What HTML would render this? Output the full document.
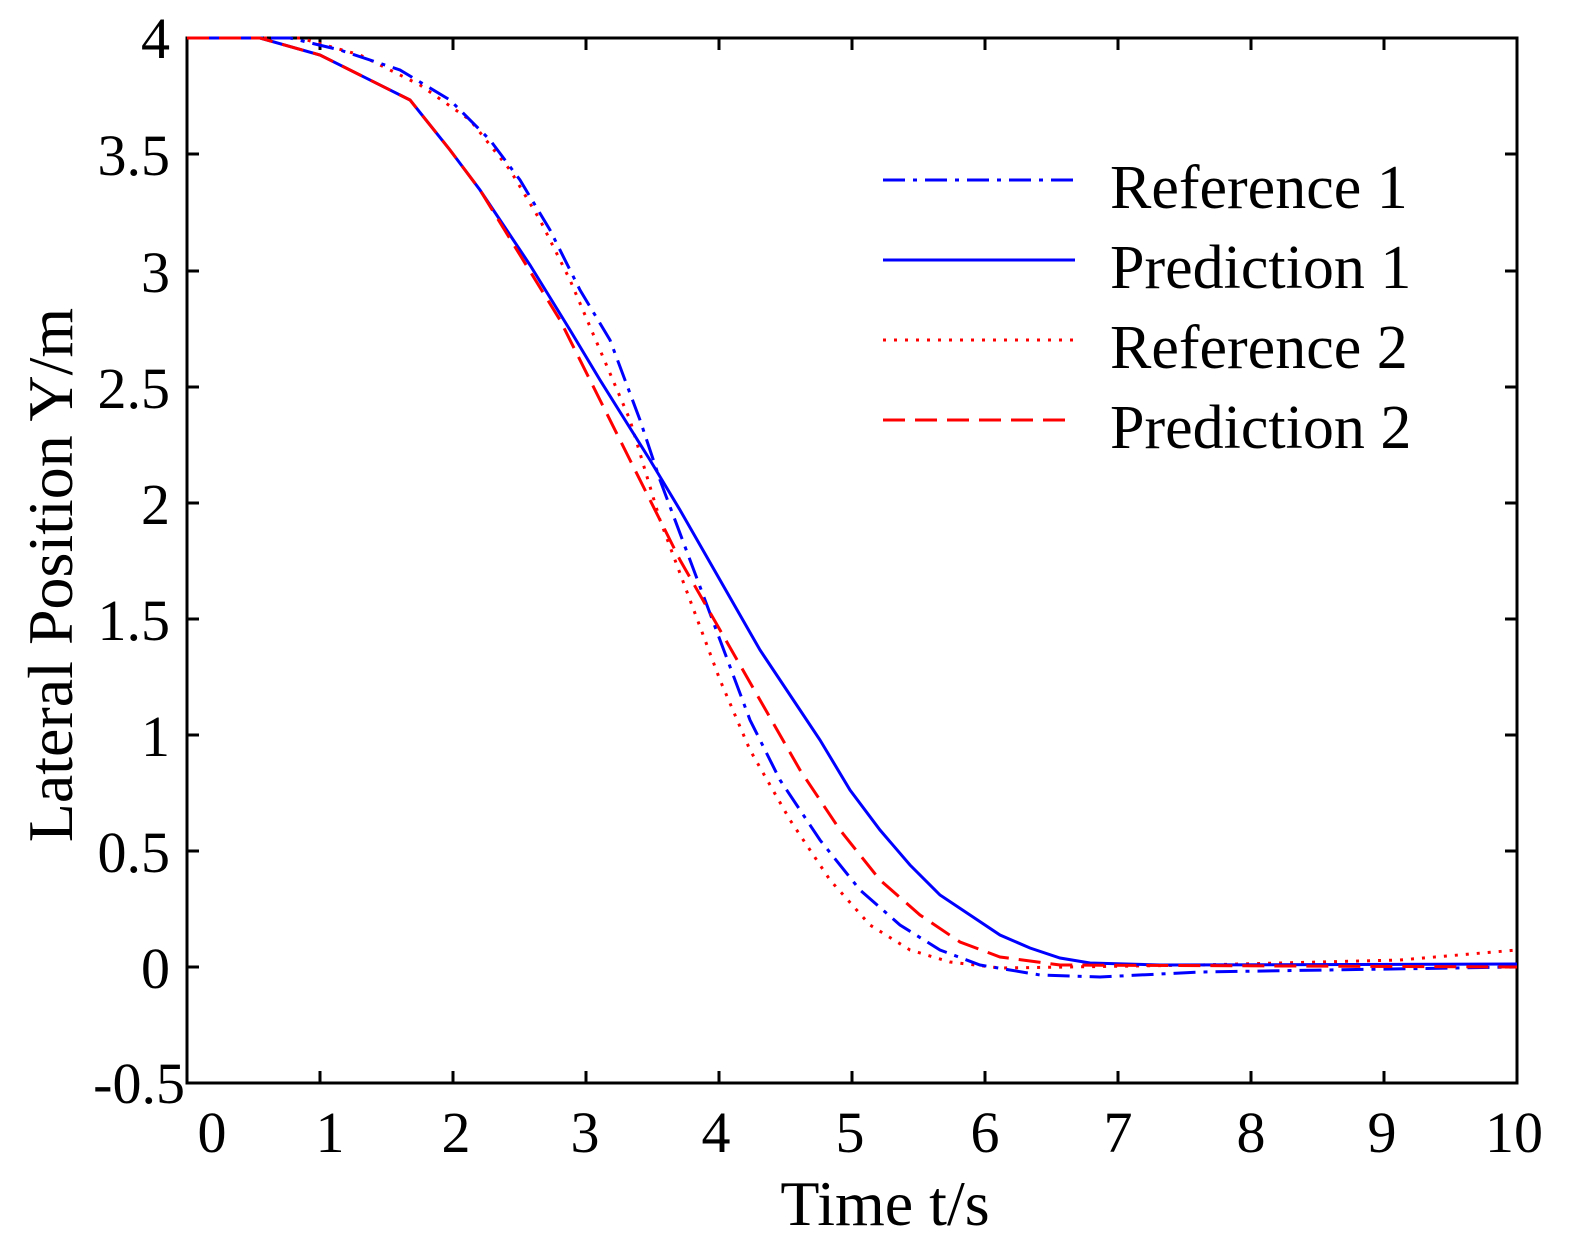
<!DOCTYPE html>
<html><head><style>body{margin:0;background:#fff}</style></head><body>
<svg width="1577" height="1251" xmlns="http://www.w3.org/2000/svg" font-family="'Liberation Serif',serif">
<rect width="1577" height="1251" fill="#fff"/>
<g stroke="#000" stroke-width="3">
<rect x="187" y="38" width="1330" height="1045" fill="none"/>
<path d="M320,1083v-12M453,1083v-12M586,1083v-12M719,1083v-12M852,1083v-12M985,1083v-12M1118,1083v-12M1251,1083v-12M1384,1083v-12
M320,38v12M453,38v12M586,38v12M719,38v12M852,38v12M985,38v12M1118,38v12M1251,38v12M1384,38v12
M187,967h12M187,851h12M187,735h12M187,619h12M187,503h12M187,387h12M187,271h12M187,154h12
M1517,967h-12M1517,851h-12M1517,735h-12M1517,619h-12M1517,503h-12M1517,387h-12M1517,271h-12M1517,154h-12"/>
</g>
<g font-size="58" text-anchor="end">
<text x="170" y="58">4</text><text x="170" y="175">3.5</text><text x="170" y="292">3</text><text x="170" y="408">2.5</text><text x="170" y="524">2</text><text x="170" y="640">1.5</text><text x="170" y="756">1</text><text x="170" y="872">0.5</text><text x="170" y="988">0</text><text x="185" y="1103">-0.5</text>
</g>
<g font-size="58" text-anchor="middle">
<text x="212" y="1152">0</text><text x="330" y="1152">1</text><text x="456" y="1152">2</text><text x="585" y="1152">3</text><text x="716" y="1152">4</text><text x="850" y="1152">5</text><text x="985" y="1152">6</text><text x="1118" y="1152">7</text><text x="1251" y="1152">8</text><text x="1382" y="1152">9</text><text x="1514" y="1152">10</text>
</g>
<text x="885" y="1225" font-size="64" text-anchor="middle">Time t/s</text>
<text transform="translate(72,575) rotate(-90)" font-size="64" text-anchor="middle">Lateral Position Y/m</text>
<g fill="none" stroke-width="3">
<polyline stroke="#f00" stroke-dasharray="3,8" points="187,38 300,38 360,55 420,85 470,120 510,170 540,220 570,280 600,350 630,420 660,520 690,600 720,680 750,750 790,820 830,880 870,925 910,950 950,962 1000,968 1200,965 1400,960 1517,950"/>
<polyline stroke="#00f" stroke-dasharray="22,8,4,8" points="187,38 290,38 340,50 400,70 450,100 490,140 520,180 550,230 580,290 610,340 640,420 660,480 690,560 720,640 750,720 780,780 820,840 860,890 900,925 940,950 980,965 1040,975 1100,977 1200,972 1517,967"/>
<polyline stroke="#00f" points="187,38 260,38 320,55 410,100 450,150 480,190 530,265 570,330 600,380 625,420 650,460 680,510 720,580 760,650 800,710 820,740 850,790 880,830 910,865 940,895 970,915 1000,935 1030,948 1060,958 1090,963 1160,965 1517,964"/>
<polyline stroke="#f00" stroke-dasharray="22,10" points="187,38 260,38 320,55 410,100 450,150 480,190 520,255 560,320 600,400 630,460 650,500 680,560 720,630 760,700 800,770 840,830 880,880 920,915 960,942 1000,957 1060,965 1517,967"/>
<line x1="883" y1="180" x2="1075" y2="180" stroke="#00f" stroke-dasharray="22,8,4,8"/>
<line x1="883" y1="260" x2="1075" y2="260" stroke="#00f"/>
<line x1="883" y1="340" x2="1075" y2="340" stroke="#f00" stroke-dasharray="3,8"/>
<line x1="883" y1="420" x2="1075" y2="420" stroke="#f00" stroke-dasharray="22,10"/>
</g>
<g font-size="62">
<text x="1110" y="208">Reference 1</text><text x="1110" y="288">Prediction 1</text><text x="1110" y="368">Reference 2</text><text x="1110" y="448">Prediction 2</text>
</g>
</svg>
</body></html>
